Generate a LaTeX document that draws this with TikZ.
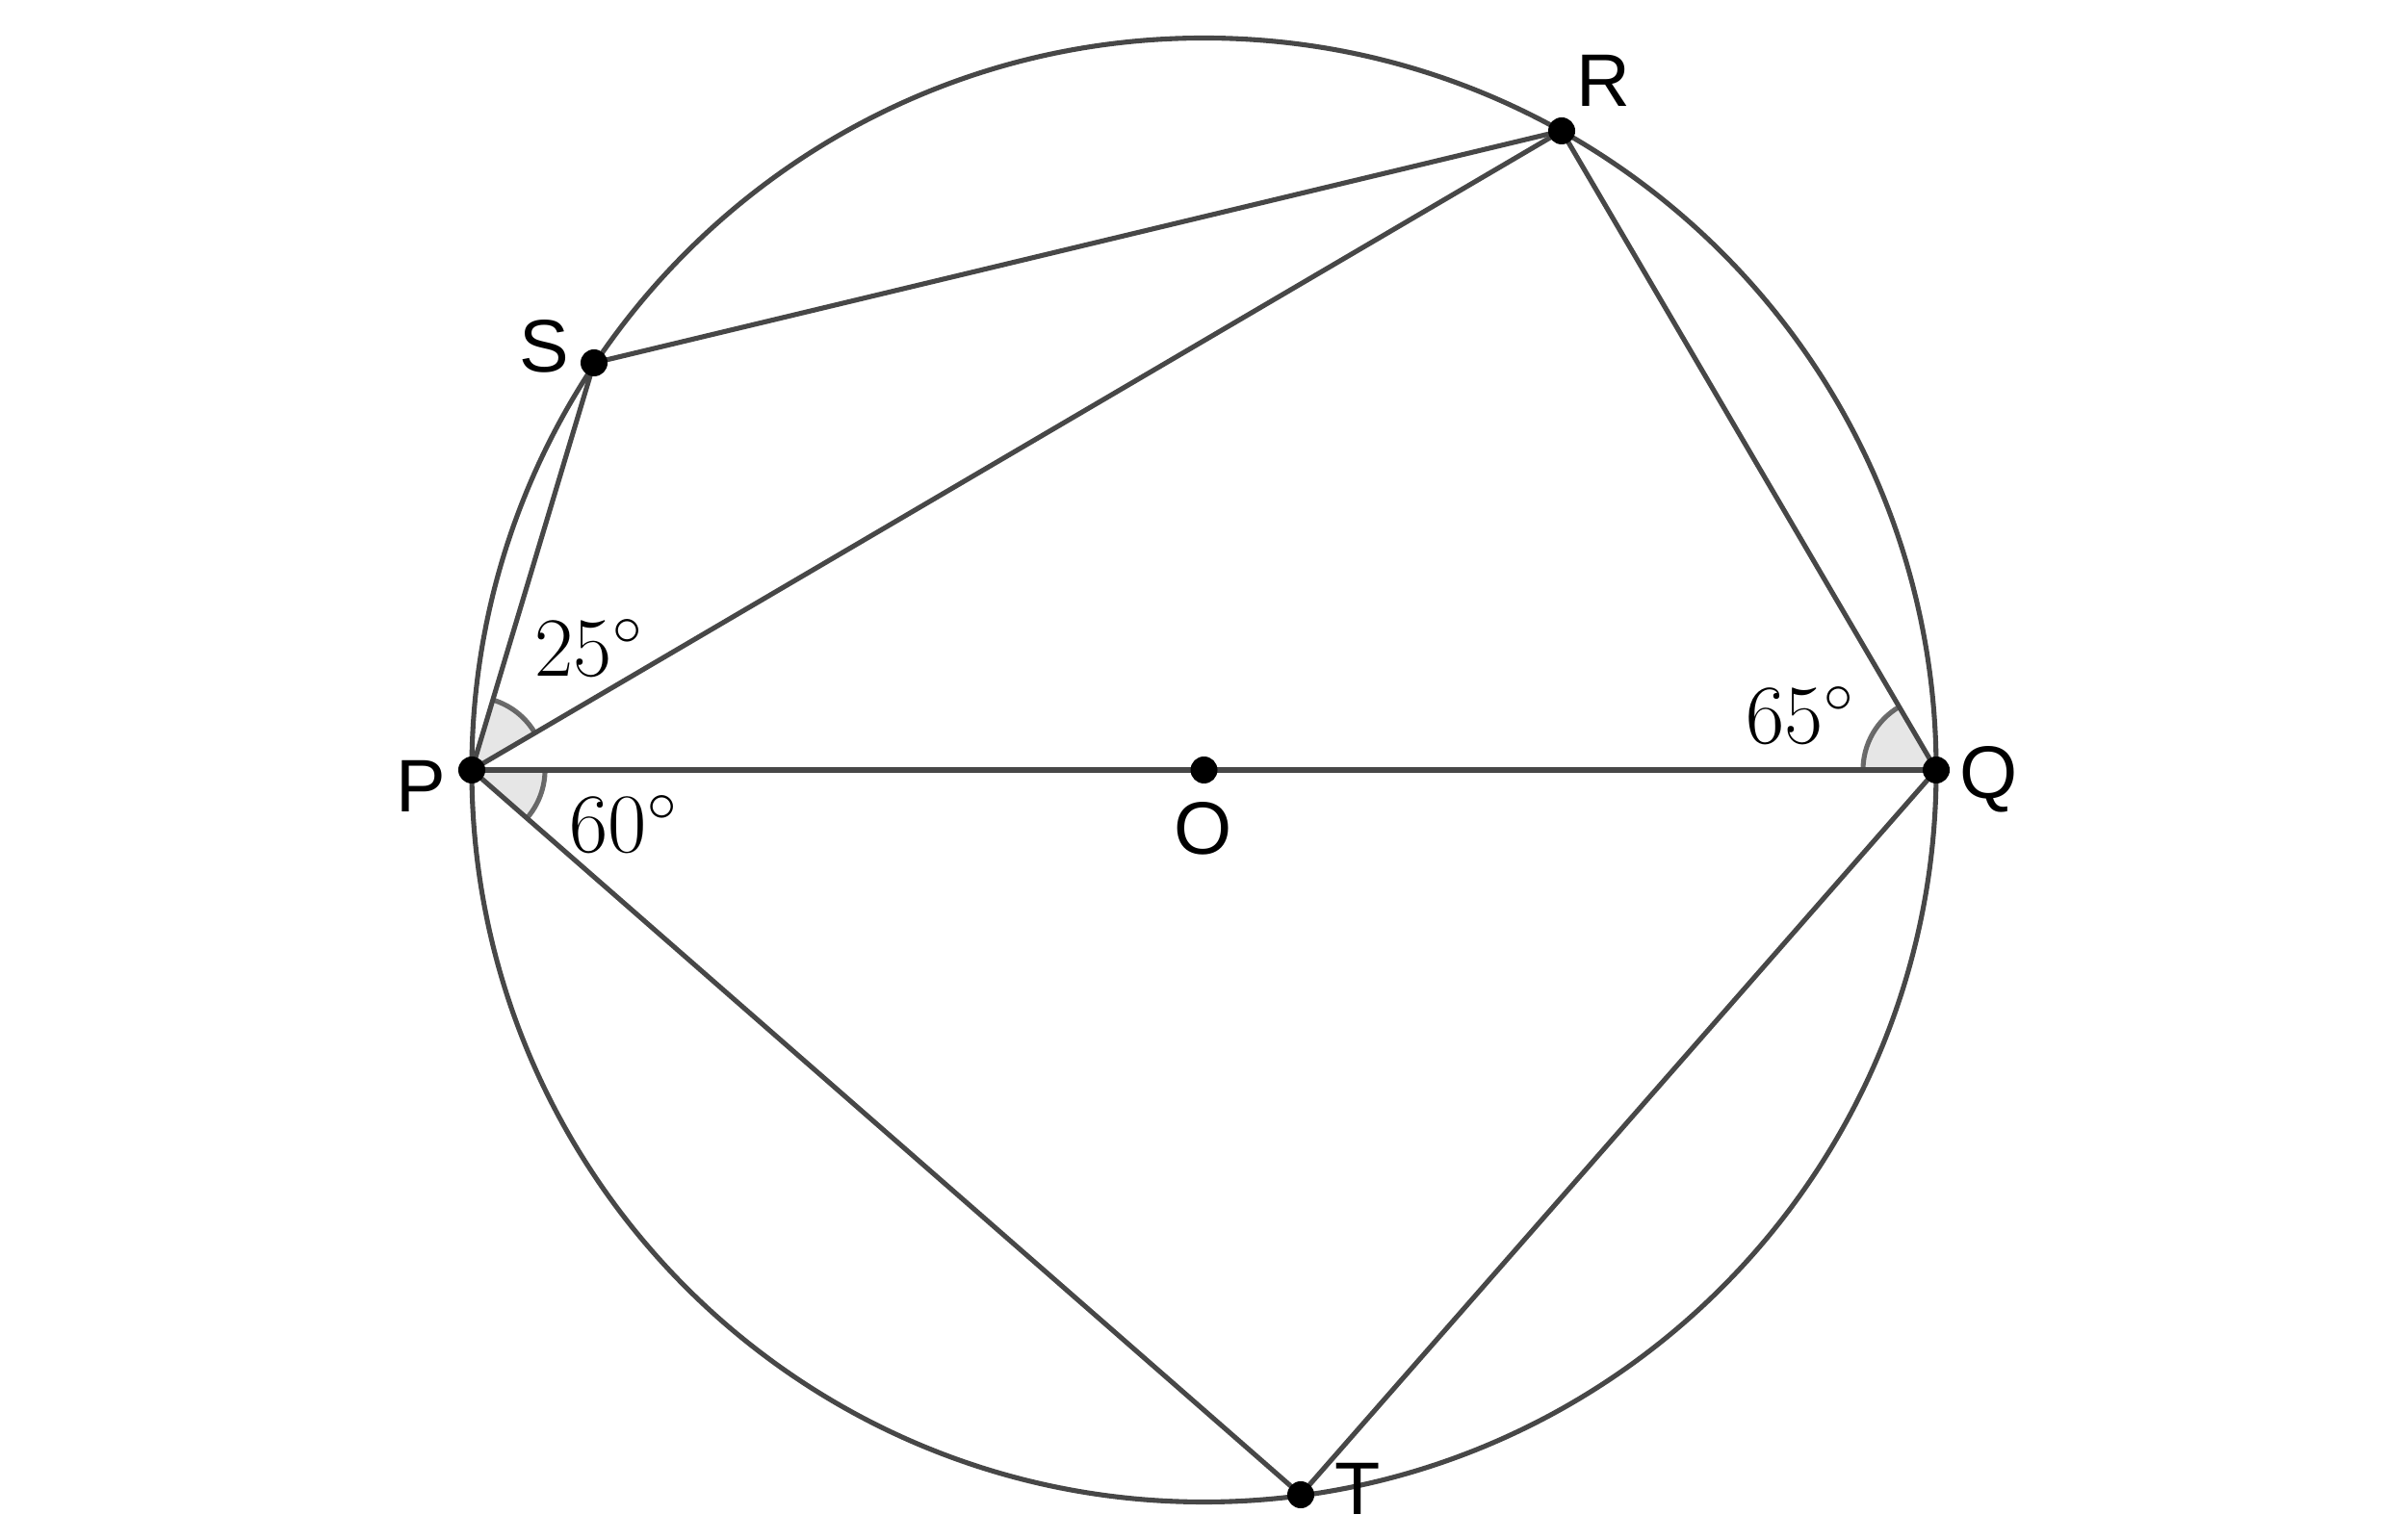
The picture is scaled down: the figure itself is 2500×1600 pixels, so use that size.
\documentclass[tikz,border=0pt]{standalone}
\usepackage{fontspec}
\newfontfamily\labfont{Liberation Sans}
\usetikzlibrary{angles}
\definecolor{lin}{HTML}{474747}
\definecolor{angfill}{HTML}{E6E6E6}
\tikzset{
  seg/.style={draw=lin, line width=1.45pt},
  pt/.style={circle, fill=black, inner sep=0pt, minimum size=0.28cm},
  lab/.style={font=\labfont\fontsize{22}{26}\selectfont, inner sep=0pt},
  deg/.style={font=\fontsize{27}{32}\selectfont, inner sep=0pt},
  angmark/.style={draw=lin, draw opacity=0.8, line width=1.45pt, fill=angfill, angle radius=0.76cm}
}
\begin{document}
\begin{tikzpicture}[x=0.01cm, y=0.01cm]
\useasboundingbox (0,0) rectangle (2500,1600);
\coordinate (O) at (1250.5,800);
\coordinate (P) at (490,800);
\coordinate (Q) at (2011,800);
\coordinate (R) at (1622,1464);
\coordinate (S) at (617,1223);
\coordinate (T) at (1351,47);
% angle marks
\pic[angmark] {angle = R--P--S};
\pic[angmark] {angle = T--P--Q};
\pic[angmark] {angle = R--Q--P};
% circle
\draw[seg] (O) circle (760.5);
% segments
\draw[seg] (P) -- (Q);
\draw[seg] (P) -- (S);
\draw[seg] (S) -- (R);
\draw[seg] (P) -- (R);
\draw[seg] (R) -- (Q);
\draw[seg] (P) -- (T);
\draw[seg] (T) -- (Q);
% points
\node[pt] (nP) at (P) {};
\node[pt] (nQ) at (Q) {};
\node[pt] (nR) at (R) {};
\node[pt] (nS) at (S) {};
\node[pt] (nT) at (T) {};
\node[pt] (nO) at (O) {};
% labels
\node[lab] (lP) at (437,783) {P};
\node[lab] (lQ) at (2066,790) {Q};
\node[lab] (lR) at (1665,1516) {R};
\node[lab] (lS) at (565,1240) {S};
\node[lab] (lO) at (1250,739) {O};
\node[lab] (lT) at (1410,53) {T};
\node[deg] (a25) at (612,927) {$25^\circ$};
\node[deg] (a60) at (648,744) {$60^\circ$};
\node[deg] (a65) at (1870,857) {$65^\circ$};
\end{tikzpicture}
\end{document}
